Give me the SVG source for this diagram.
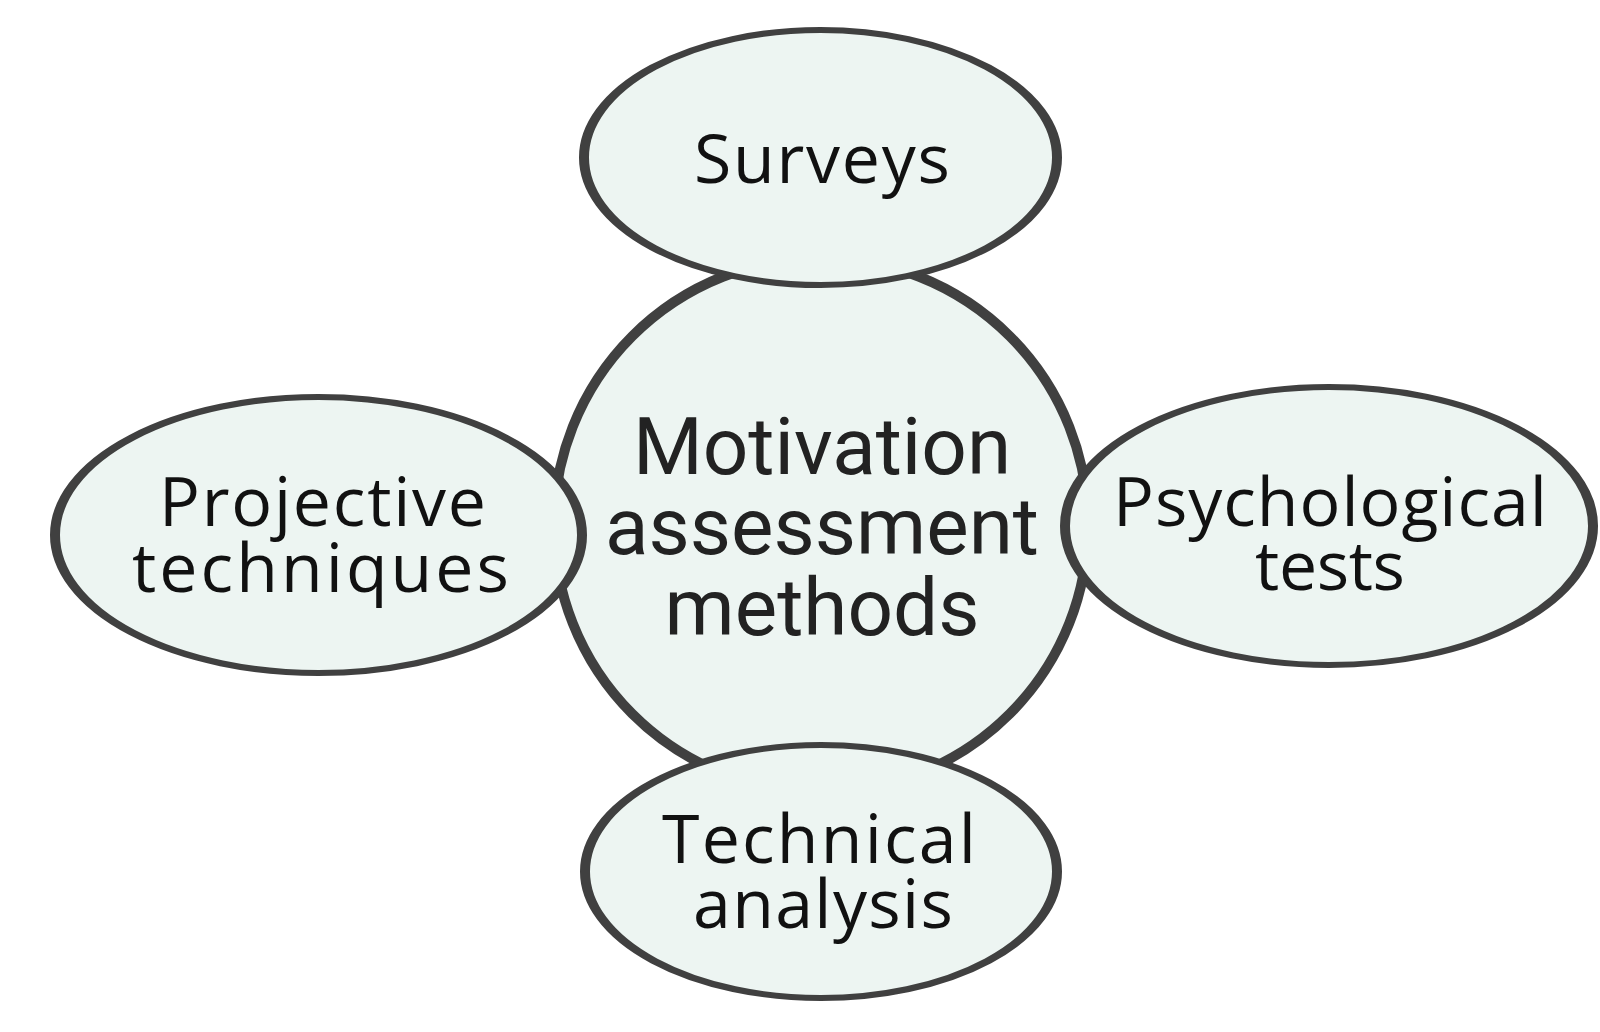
<svg xmlns="http://www.w3.org/2000/svg" width="1600" height="1032" viewBox="0 0 1600 1032">
  <style>
    .bg { fill: #ffffff; }
    .hub { fill: #EDF5F2; stroke: #404040; stroke-width: 10; }
    .leaf { fill: #EDF5F2; stroke: #404040; stroke-width: 6; }
    .hubtext { font-family: Roboto, "Liberation Sans", sans-serif; font-size: 80px; fill: #222222; text-anchor: middle; }
    .leaftext { font-family: "Open Sans", "Noto Sans", "Liberation Sans", sans-serif; font-size: 68px; fill: #111111; }
  </style>
  <rect class="bg" x="0" y="0" width="1600" height="1032"/>
  <g id="connectors"></g>
  <g id="node-center">
    <circle class="hub" cx="821" cy="525" r="267"/>
    <text class="hubtext" x="822" y="474">Motivation</text>
    <text class="hubtext" x="822" y="554">assessment</text>
    <text class="hubtext" x="822" y="635">methods</text>
  </g>
  <g id="node-surveys">
    <g transform="translate(820.5,157.5) scale(1.6667,1)">
      <ellipse class="leaf" cx="0" cy="0" rx="141.9" ry="127.5"/>
    </g>
    <text class="leaftext" x="694" y="183" textLength="256" lengthAdjust="spacing">Surveys</text>
  </g>
  <g id="node-projective">
    <g transform="translate(318.5,535) scale(1.6667,1)">
      <ellipse class="leaf" cx="0" cy="0" rx="158.1" ry="138"/>
    </g>
    <text class="leaftext" x="159" y="526" textLength="327" lengthAdjust="spacing">Projective</text>
    <text class="leaftext" x="132" y="592" textLength="377" lengthAdjust="spacing">techniques</text>
  </g>
  <g id="node-psychological">
    <g transform="translate(1329,526) scale(1.6667,1)">
      <ellipse class="leaf" cx="0" cy="0" rx="158.4" ry="139"/>
    </g>
    <text class="leaftext" x="1113" y="526" textLength="434" lengthAdjust="spacing">Psychological</text>
    <text class="leaftext" x="1255" y="590" textLength="150" lengthAdjust="spacing">tests</text>
  </g>
  <g id="node-technical">
    <g transform="translate(821,871.5) scale(1.6667,1)">
      <ellipse class="leaf" cx="0" cy="0" rx="141.6" ry="126.5"/>
    </g>
    <text class="leaftext" x="662" y="863" textLength="314" lengthAdjust="spacing">Technical</text>
    <text class="leaftext" x="693" y="928" textLength="260" lengthAdjust="spacing">analysis</text>
  </g>
</svg>
